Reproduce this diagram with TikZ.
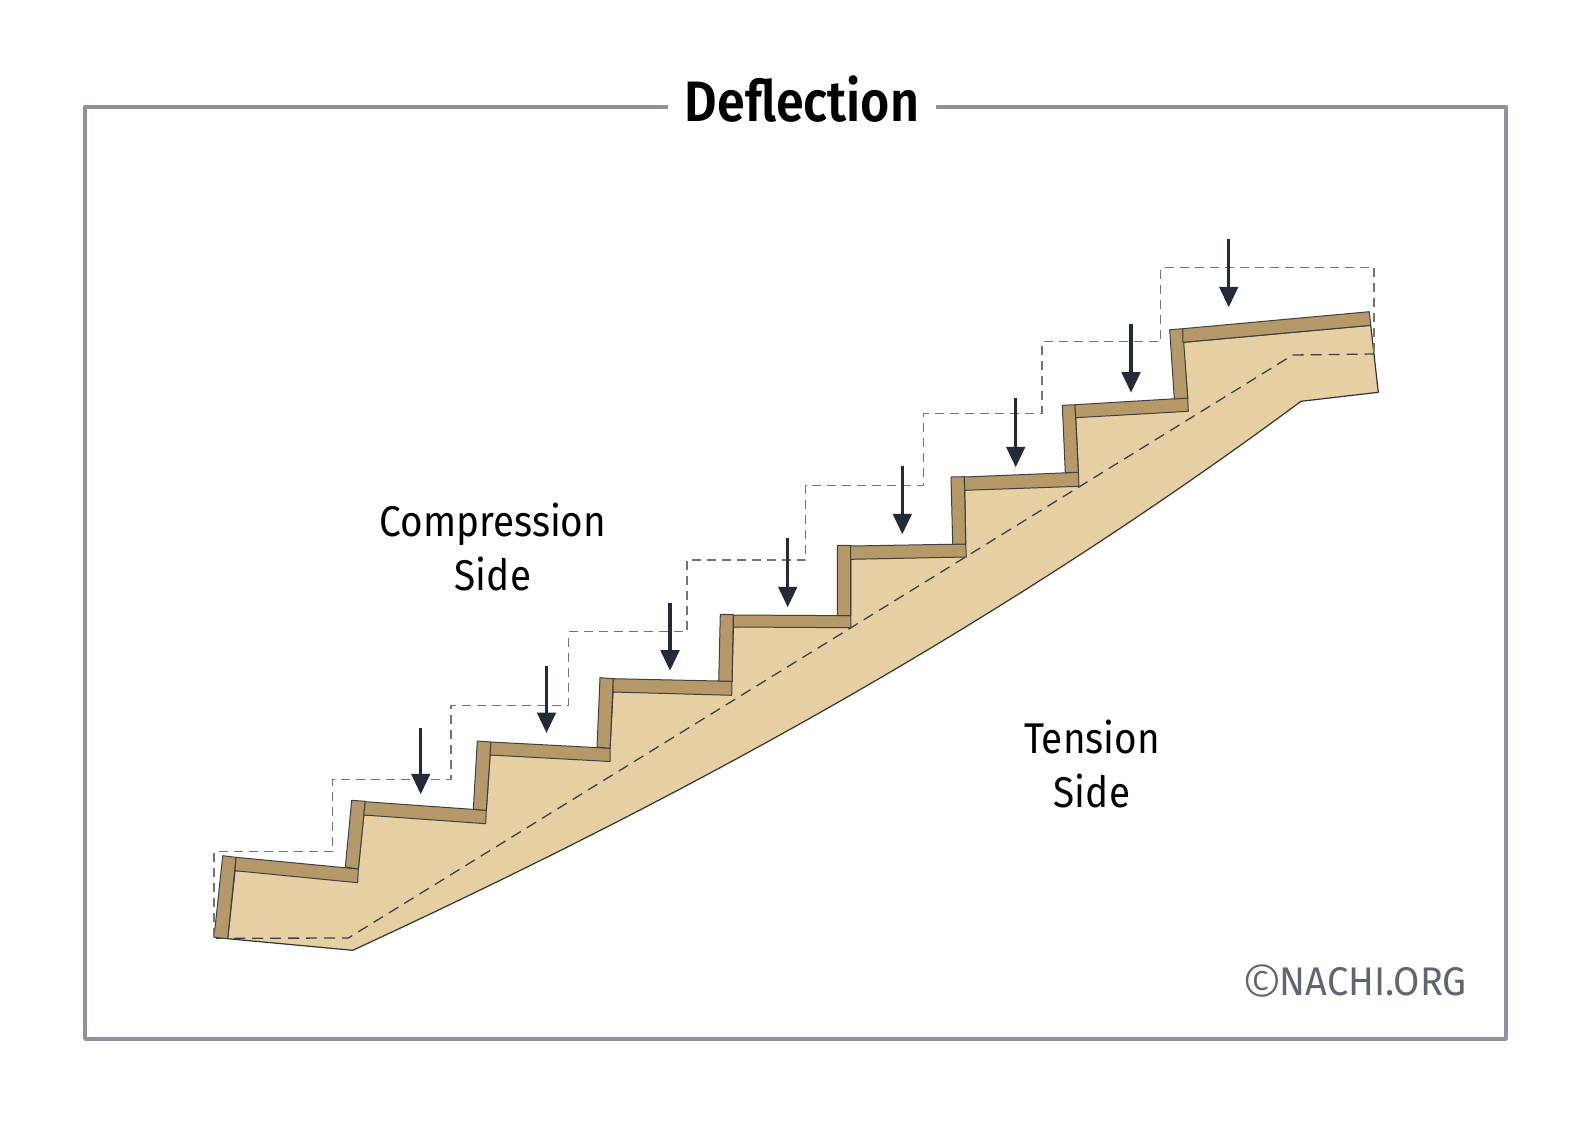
\documentclass[tikz,border=0pt]{standalone}
\usepackage{fontspec}
\setmainfont{Fira Sans}
\newfontfamily\labelfont[FakeStretch=0.9]{Fira Sans}
\newfontfamily\titlefont[FakeStretch=0.88]{Fira Sans SemiBold}
\newfontfamily\markfont[FakeStretch=0.95]{Fira Sans}
\newfontfamily\copyfont{Fira Sans Light}
\definecolor{framegray}{HTML}{8E929E}
\definecolor{woodtan}{HTML}{E5CFA3}
\definecolor{boardbrown}{HTML}{B59968}
\definecolor{loadnavy}{HTML}{232A38}
\definecolor{markgray}{HTML}{5F6673}
\usetikzlibrary{arrows.meta}

\begin{document}
\begin{tikzpicture}[x=1pt, y=-1pt, line join=round,
    board/.style = {draw=black!75, fill=boardbrown, line width=1pt},
    stringer/.style = {draw=black!80, fill=woodtan, line width=1.2pt},
    bent/.style = {draw=black!75, line width=1.3pt, dash pattern=on 11pt off 7pt},
    level/.style = {draw=black!55, line width=1.4pt, dash pattern=on 9pt off 6pt},
    load/.style = {draw=loadnavy, line width=3.4pt, -{Triangle[length=20.5pt, width=18.5pt]}},
    side/.style = {font=\labelfont\fontsize{43}{54}\selectfont, align=center, text=black, inner sep=0pt}]
    \useasboundingbox (0,0) rectangle (1592,1124);

    \draw[framegray, line width=3.6pt] (667.7,106.7) -- (85,106.7) -- (85,1039) -- (1506,1039) -- (1506,106.7) -- (936,106.7);
    \node[font=\titlefont\fontsize{57}{60}\selectfont, inner sep=0pt, anchor=base] (title) at (802,121.7) {Deflection};

    \path[stringer] (227.7,938.7) -- (352.7,950.3)
        .. controls (669,804) and (985,635) .. (1301,401.3)
        -- (1378.3,392.3) -- (1370.7,325.3) -- (1183,342.3) -- (1187.7,398) -- (1075.7,417.7)
        -- (1078.3,472.3) -- (964.7,490.3) -- (965.7,544) -- (850.7,559.3) -- (850.7,615.7)
        -- (733.3,627) -- (732,681.3) -- (613,692) -- (610,748.3) -- (490,755) -- (486.3,810.3)
        -- (363.7,815) -- (358.3,869) -- (235,870.7) -- cycle;

    \path[bent] (216,938.3) -- (348.3,938) -- (1292.7,355) -- (1374,354);

    \path[board] (222.7,855.7) -- (236,857.3) -- (227.7,938.7) -- (214,937.3) -- cycle;
    \path[board] (236,857.3) -- (358.3,869) -- (357.7,882.7) -- (235,870.7) -- cycle;
    \path[board] (351.7,800.3) -- (365.3,801.3) -- (358.3,869) -- (345.3,867) -- cycle;
    \path[board] (365.3,801.7) -- (486.3,810.3) -- (485.7,823.7) -- (363.7,815) -- cycle;
    \path[board] (477.3,741) -- (491,742) -- (486.3,810.3) -- (473.3,809.3) -- cycle;
    \path[board] (491,742) -- (610,748.3) -- (610,761.5) -- (490,755) -- cycle;
    \path[board] (600,677.7) -- (613.3,678.7) -- (610,748.3) -- (597,747) -- cycle;
    \path[board] (613.3,678.7) -- (732,681.3) -- (731.7,695.3) -- (613,692) -- cycle;
    \path[board] (720.3,614.3) -- (733.3,614.7) -- (732,681.3) -- (718.7,681) -- cycle;
    \path[board] (733.3,615) -- (850.7,615.7) -- (851,627.7) -- (733.3,627) -- cycle;
    \path[board] (837.3,545.3) -- (850.5,545.3) -- (850.7,615.7) -- (837.3,615.7) -- cycle;
    \path[board] (850.7,546) -- (965.7,544) -- (966.3,557) -- (850.7,559.3) -- cycle;
    \path[board] (951,477) -- (964.3,476.7) -- (965.7,544) -- (952.7,544.3) -- cycle;
    \path[board] (964.3,477) -- (1078.3,472.3) -- (1079,486.3) -- (964.7,490.3) -- cycle;
    \path[board] (1062.3,405.3) -- (1075,404.7) -- (1078.3,472.3) -- (1065.3,472.7) -- cycle;
    \path[board] (1075,404.7) -- (1187.7,398) -- (1188.3,411.3) -- (1075.7,417.7) -- cycle;
    \path[board] (1169.7,329.7) -- (1182.7,328.7) -- (1187.7,398) -- (1174.3,399) -- cycle;
    \path[board] (1182.7,328.7) -- (1369.3,311.7) -- (1370.7,325.3) -- (1183,342.3) -- cycle;

    \path[level] (214,937) -- (214,851.7) -- (332.7,851.7) -- (332.7,779.3) -- (451,779.3)
        -- (451,705.3) -- (568.5,705.3) -- (568.5,631.7) -- (687,631.7) -- (687,560)
        -- (805.7,560) -- (805.7,485.3) -- (923.7,485.3) -- (923.7,413.3) -- (1042,413.3)
        -- (1042,341.7) -- (1160.7,341.7) -- (1160.7,267.7) -- (1374,267.7) -- (1374,354);

    \foreach \i/\xx/\top/\tip in {1/420.7/728.3/794.3, 2/546.5/666/733, 3/670/602.7/670.7,
        4/787.7/538.3/607.3, 5/902.3/465.7/534.3, 6/1015.7/398.3/467.3,
        7/1131/324/392.7, 8/1228.7/239.3/307.3}{
        \coordinate (tail\i) at (\xx,\top);
        \coordinate (head\i) at (\xx,\tip);
        \draw[load] (tail\i) -- (head\i);
    }

    \node[side, anchor=base] (compression) at (493,536) {Compression};
    \node[side, anchor=base] (compside) at (493,590) {Side};
    \node[side, anchor=base] (tension) at (1092,753) {Tension};
    \node[side, anchor=base] (tenside) at (1092,807) {Side};
    \node[font=\markfont\fontsize{40}{40}\selectfont, text=markgray, inner sep=0pt, anchor=base east] (mark) at (1467,995) {\raisebox{-9.5pt}{\copyfont\fontsize{54}{54}\selectfont ©}\kern-4pt NACHI.ORG};
\end{tikzpicture}
\end{document}
